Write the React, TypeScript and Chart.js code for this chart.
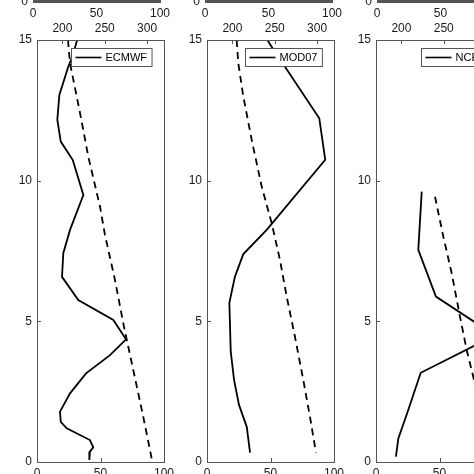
import { useEffect, useRef } from "react";
import { Chart, registerables } from "chart.js";

Chart.register(...registerables);

// ---- tick values ----
const altitudeTicks = [0, 5, 10, 15];
const humidityTicks = [0, 50, 100];
const temperatureTicks = [200, 250, 300];

// ---- series labels ----
const seriesLabels = ["ECMWF", "MOD07", "NCEP"];

// ---- ECMWF ----
const ecmwfHumidityAlt = [15.0, 14.35, 14.05, 13.05, 12.17, 11.39, 10.74, 9.49, 8.25, 7.42, 6.58, 5.76, 5.05, 4.36, 3.8, 3.15, 2.44, 1.79, 1.43, 1.2, 0.78, 0.52, 0.37, 0.07];
const ecmwfHumidity = [31.7, 27.3, 24.6, 17.6, 16.0, 18.7, 28.1, 36.5, 26.0, 20.7, 19.7, 32.5, 60.1, 70.1, 57.5, 38.6, 26.0, 18.1, 18.7, 23.4, 41.7, 44.3, 41.7, 41.2];
const ecmwfTempAlt = [15.0, 14.17, 12.41, 10.85, 9.08, 8.07, 6.47, 4.81, 3.27, 1.61, 0.13];
const ecmwfTemp = [206.6, 209.0, 220.8, 230.6, 244.4, 250.3, 262.1, 272.7, 283.7, 295.5, 305.4];

// ---- MOD07 ----
const mod07HumidityAlt = [15.0, 14.76, 14.05, 12.22, 10.74, 8.25, 7.39, 6.59, 5.66, 3.92, 2.92, 2.03, 1.25, 0.33];
const mod07Humidity = [47.5, 50.9, 61.4, 88.4, 93.1, 47.0, 28.6, 22.0, 17.6, 18.7, 21.3, 25.2, 31.3, 33.9];
const mod07TempAlt = [15.0, 14.17, 12.99, 11.45, 9.79, 8.49, 7.18, 5.88, 4.45, 2.92, 1.61, 0.33];
const mod07Temp = [205.0, 207.0, 212.9, 222.8, 234.6, 246.4, 256.2, 264.1, 273.9, 283.7, 291.6, 298.7];

// ---- NCEP ----
const ncepHumidityAlt = [9.61, 7.54, 5.88, 4.5, 3.17, 1.85, 0.84, 0.19];
const ncepHumidity = [36.0, 33.3, 47.2, 93.7, 35.2, 25.4, 17.6, 15.7];
const ncepTempAlt = [9.43, 8.01, 6.71, 5.17, 3.98, 3.03, 2.6];
const ncepTemp = [239.7, 249.5, 259.4, 269.2, 277.1, 284.9, 287.5];

// ---- layout constants ----
const PLOT_W = 127;
const PLOT_H = 422;
const Y_AXIS_W = 37;
const TOP_H = 40;
const BOTTOM_H = 28;
const RIGHT_PAD = 16;
const CANVAS_W = Y_AXIS_W + PLOT_W + RIGHT_PAD;
const CANVAS_H = TOP_H + PLOT_H + BOTTOM_H;

const TEXT = "#1a1a1a";
const AXIS = "#555555";
const FONT = "'Liberation Sans', Arial, Helvetica, sans-serif";

const framePlugin = {
  id: "frame",
  afterDatasetsDraw(chart: any, _args: any, opts: any) {
    const { ctx, chartArea: a } = chart;
    ctx.save();
    ctx.strokeStyle = AXIS;
    ctx.lineWidth = 1;
    ctx.setLineDash([]);
    ctx.strokeRect(a.left + 0.5, a.top + 0.5, a.right - a.left, a.bottom - a.top);
    if (opts && opts.bottomWidth) {
      ctx.lineWidth = opts.bottomWidth;
      ctx.beginPath();
      ctx.moveTo(a.left, a.bottom - opts.bottomWidth / 2 + 0.5);
      ctx.lineTo(a.right + 1, a.bottom - opts.bottomWidth / 2 + 0.5);
      ctx.stroke();
      ctx.lineWidth = 1;
    }
    const tl = 4;
    ctx.beginPath();
    const sx = chart.scales.x;
    sx.ticks.forEach((t: any) => {
      const p = Math.round(sx.getPixelForValue(t.value)) + 0.5;
      ctx.moveTo(p, a.bottom);
      ctx.lineTo(p, a.bottom - tl);
    });
    const sx2 = chart.scales.x2;
    sx2.ticks.forEach((t: any) => {
      const p = Math.round(sx2.getPixelForValue(t.value)) + 0.5;
      ctx.moveTo(p, a.top);
      ctx.lineTo(p, a.top + tl);
    });
    const sy = chart.scales.y;
    sy.ticks.forEach((t: any) => {
      const p = Math.round(sy.getPixelForValue(t.value)) + 0.5;
      ctx.moveTo(a.left, p);
      ctx.lineTo(a.left + tl, p);
    });
    ctx.stroke();

    // legend box (top-right, inside plot)
    const ds = chart.data.datasets[0];
    if (ds && opts && opts.legend) {
      ctx.font = `11px ${FONT}`;
      const tw = ctx.measureText(ds.label).width;
      const w = 4 + 26 + 4 + tw + 5;
      const h = 18;
      const right = a.right - 12;
      const x0 = Math.round(right - w) + 0.5;
      const y0 = a.top + 8.5;
      ctx.fillStyle = "#ffffff";
      ctx.fillRect(x0, y0, w, h);
      ctx.strokeStyle = AXIS;
      ctx.strokeRect(x0, y0, w, h);
      ctx.strokeStyle = "#000";
      ctx.lineWidth = 1.6;
      ctx.beginPath();
      ctx.moveTo(x0 + 4, y0 + h / 2);
      ctx.lineTo(x0 + 30, y0 + h / 2);
      ctx.stroke();
      ctx.fillStyle = "#000";
      ctx.textBaseline = "middle";
      ctx.textAlign = "left";
      ctx.fillText(ds.label, x0 + 34, y0 + h / 2 + 0.5);
    }
    ctx.restore();
  },
};

function fixedTicks(values: number[]) {
  return (s: any) => {
    s.ticks = values.map((v) => ({ value: v }));
  };
}

type PanelProps = {
  plotLeft: number;
  plotBottom: number;
  label?: string;
  hAlt?: number[];
  h?: number[];
  tAlt?: number[];
  t?: number[];
  upper?: boolean;
};

function Panel({ plotLeft, plotBottom, label, hAlt, h, tAlt, t, upper }: PanelProps) {
  const ref = useRef<HTMLCanvasElement>(null);
  useEffect(() => {
    if (!ref.current) return;
    const datasets: any[] = [];
    if (h && hAlt) {
      datasets.push({
        label: label,
        data: h.map((v, i) => ({ x: v, y: hAlt[i] })),
        xAxisID: "x",
        yAxisID: "y",
        borderColor: "#000",
        borderWidth: 1.8,
        pointRadius: 0,
        tension: 0,
        fill: false,
      });
    }
    if (t && tAlt) {
      datasets.push({
        label: label + " T",
        data: t.map((v, i) => ({ x: v, y: tAlt[i] })),
        xAxisID: "x2",
        yAxisID: "y",
        borderColor: "#000",
        borderWidth: 1.8,
        borderDash: [7, 5],
        pointRadius: 0,
        tension: 0,
        fill: false,
      });
    }
    const tickFont = { family: FONT, size: 12 };
    const chart = new Chart(ref.current, {
      type: "line",
      data: { datasets },
      options: {
        animation: false,
        responsive: false,
        events: [],
        layout: { autoPadding: false, padding: { left: 0, right: RIGHT_PAD, top: 0, bottom: 0 } },
        plugins: {
          legend: { display: false },
          tooltip: { enabled: false },
          frame: { legend: !upper, bottomWidth: upper ? 2.5 : 0 },
        } as any,
        scales: {
          x: {
            type: "linear",
            position: "bottom",
            min: 0,
            max: 100,
            grid: { display: false, drawTicks: false },
            border: { display: false },
            ticks: { padding: 4, color: TEXT, font: tickFont, maxRotation: 0, autoSkip: false },
            afterBuildTicks: fixedTicks(humidityTicks),
            afterFit: (s: any) => {
              s.height = BOTTOM_H;
              s.paddingLeft = 0;
              s.paddingRight = 0;
            },
          },
          x2: {
            type: "linear",
            position: "top",
            min: 170,
            max: 320,
            grid: { display: false, drawTicks: false },
            border: { display: false },
            ticks: { padding: 4, color: TEXT, font: tickFont, maxRotation: 0, autoSkip: false },
            afterBuildTicks: fixedTicks(temperatureTicks),
            afterFit: (s: any) => {
              s.height = TOP_H;
              s.paddingLeft = 0;
              s.paddingRight = 0;
            },
          },
          y: {
            type: "linear",
            position: "left",
            min: 0,
            max: 15,
            grid: { display: false, drawTicks: false },
            border: { display: false },
            ticks: { padding: 5, color: TEXT, font: tickFont, autoSkip: false },
            afterBuildTicks: fixedTicks(altitudeTicks),
            afterFit: (s: any) => {
              s.width = Y_AXIS_W;
              s.paddingTop = 0;
              s.paddingBottom = 0;
            },
          },
        } as any,
      },
      plugins: [framePlugin],
    });
    return () => chart.destroy();
  }, []);
  return (
    <canvas
      ref={ref}
      width={CANVAS_W}
      height={CANVAS_H}
      style={{
        position: "absolute",
        left: plotLeft - Y_AXIS_W,
        top: plotBottom - PLOT_H - TOP_H,
        width: CANVAS_W,
        height: CANVAS_H,
      }}
    />
  );
}

export default function App() {
  return (
    <div
      style={{
        position: "fixed",
        left: 0,
        top: 0,
        width: 474,
        height: 474,
        overflow: "hidden",
        background: "#ffffff",
      }}
    >
      {/* bottom edges of the panels in the row above */}
      <Panel plotLeft={33} plotBottom={2} upper />
      <Panel plotLeft={205} plotBottom={2} upper />
      <Panel plotLeft={377} plotBottom={2} upper />
      {/* visible row */}
      <Panel plotLeft={37} plotBottom={462} label={seriesLabels[0]} hAlt={ecmwfHumidityAlt} h={ecmwfHumidity} tAlt={ecmwfTempAlt} t={ecmwfTemp} />
      <Panel plotLeft={207} plotBottom={462} label={seriesLabels[1]} hAlt={mod07HumidityAlt} h={mod07Humidity} tAlt={mod07TempAlt} t={mod07Temp} />
      <Panel plotLeft={376} plotBottom={462} label={seriesLabels[2]} hAlt={ncepHumidityAlt} h={ncepHumidity} tAlt={ncepTempAlt} t={ncepTemp} />
    </div>
  );
}
